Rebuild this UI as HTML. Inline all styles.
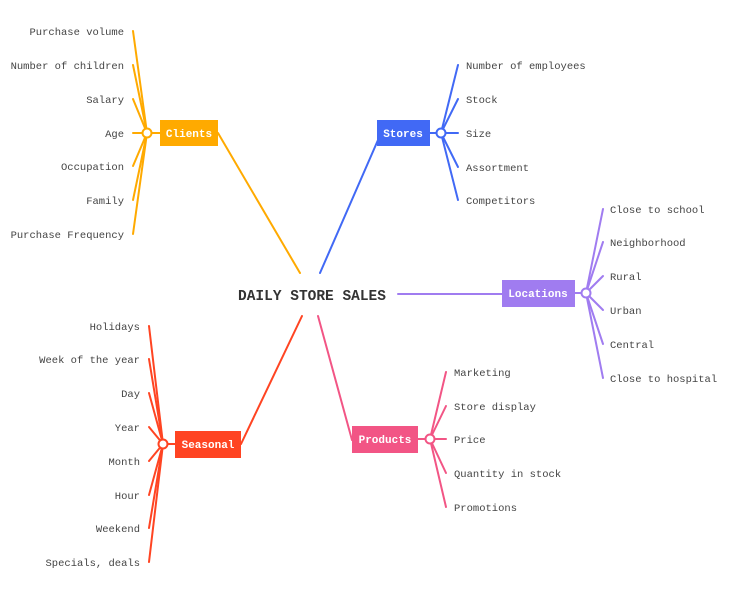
<!DOCTYPE html>
<html><head><meta charset="utf-8"><style>
html,body{margin:0;padding:0;background:#fff;}
svg{display:block;}
text{font-family:"Liberation Mono","DejaVu Sans Mono",monospace;font-size:10.5px;fill:#444;}
.b{fill:#fff;font-weight:bold;font-size:11px;}
</style></head><body>
<svg width="736" height="597" viewBox="0 0 736 597" xmlns="http://www.w3.org/2000/svg">
<g stroke-width="2" fill="none" stroke-linecap="round">
<!-- Clients -->
<g stroke="#ffaa00">
<line x1="218" y1="133" x2="300" y2="273"/>
<line x1="152" y1="133" x2="160" y2="133"/>
<line x1="147" y1="133" x2="133" y2="31"/><line x1="147" y1="133" x2="133" y2="65"/><line x1="147" y1="133" x2="133" y2="99"/><line x1="142" y1="133" x2="133" y2="133"/><line x1="147" y1="133" x2="133" y2="166"/><line x1="147" y1="133" x2="133" y2="200"/><line x1="147" y1="133" x2="133" y2="234"/>
</g>
<!-- Stores -->
<g stroke="#4169f5">
<line x1="378" y1="140" x2="320" y2="273"/>
<line x1="430" y1="133" x2="437" y2="133"/>
<line x1="441" y1="133" x2="458" y2="65"/><line x1="441" y1="133" x2="458" y2="99"/><line x1="446" y1="133" x2="458" y2="133"/><line x1="441" y1="133" x2="458" y2="167"/><line x1="441" y1="133" x2="458" y2="200"/>
</g>
<!-- Locations -->
<g stroke="#a07cf0">
<line x1="398" y1="294" x2="502" y2="294"/>
<line x1="575" y1="293" x2="582" y2="293"/>
<line x1="586" y1="293" x2="603" y2="209"/><line x1="586" y1="293" x2="603" y2="242"/><line x1="586" y1="293" x2="603" y2="276"/><line x1="586" y1="293" x2="603" y2="310"/><line x1="586" y1="293" x2="603" y2="344"/><line x1="586" y1="293" x2="603" y2="378"/>
</g>
<!-- Products -->
<g stroke="#f25585">
<line x1="318" y1="316" x2="352" y2="440"/>
<line x1="418" y1="439" x2="426" y2="439"/>
<line x1="430" y1="439" x2="446" y2="372"/><line x1="430" y1="439" x2="446" y2="406"/><line x1="435" y1="439" x2="446" y2="439"/><line x1="430" y1="439" x2="446" y2="473"/><line x1="430" y1="439" x2="446" y2="507"/>
</g>
<!-- Seasonal -->
<g stroke="#ff4422">
<line x1="302" y1="316" x2="241" y2="444"/>
<line x1="168" y1="444" x2="175" y2="444"/>
<line x1="163" y1="444" x2="149" y2="326"/><line x1="163" y1="444" x2="149" y2="359"/><line x1="163" y1="444" x2="149" y2="393"/><line x1="163" y1="444" x2="149" y2="427"/><line x1="163" y1="444" x2="149" y2="461"/><line x1="163" y1="444" x2="149" y2="495"/><line x1="163" y1="444" x2="149" y2="528"/><line x1="163" y1="444" x2="149" y2="562"/>
</g>
</g>
<!-- boxes -->
<rect x="160" y="120" width="58" height="26" fill="#ffaa00"/>
<rect x="377" y="120" width="53" height="26" fill="#4169f5"/>
<rect x="502" y="280" width="73" height="27" fill="#a07cf0"/>
<rect x="352" y="426" width="66" height="27" fill="#f25585"/>
<rect x="175" y="431" width="66" height="27" fill="#ff4422"/>
<g fill="#fff" stroke-width="2">
<circle cx="147" cy="133" r="4.5" stroke="#ffaa00"/>
<circle cx="441" cy="133" r="4.5" stroke="#4169f5"/>
<circle cx="586" cy="293" r="4.5" stroke="#a07cf0"/>
<circle cx="430" cy="439" r="4.5" stroke="#f25585"/>
<circle cx="163" cy="444" r="4.5" stroke="#ff4422"/>
</g>
<g text-anchor="middle">
<text class="b" x="189" y="137">Clients</text>
<text class="b" x="403" y="137">Stores</text>
<text class="b" x="538" y="297">Locations</text>
<text class="b" x="385" y="443">Products</text>
<text class="b" x="208" y="448">Seasonal</text>
<text x="312" y="300" style="font-size:14.5px;font-weight:bold;fill:#333">DAILY STORE SALES</text>
</g>
<g text-anchor="end">
<text x="124" y="35">Purchase volume</text>
<text x="124" y="69">Number of children</text>
<text x="124" y="103">Salary</text>
<text x="124" y="137">Age</text>
<text x="124" y="170">Occupation</text>
<text x="124" y="204">Family</text>
<text x="124" y="238">Purchase Frequency</text>
<text x="140" y="330">Holidays</text>
<text x="140" y="363">Week of the year</text>
<text x="140" y="397">Day</text>
<text x="140" y="431">Year</text>
<text x="140" y="465">Month</text>
<text x="140" y="499">Hour</text>
<text x="140" y="532">Weekend</text>
<text x="140" y="566">Specials, deals</text>
</g>
<g>
<text x="466" y="69">Number of employees</text>
<text x="466" y="103">Stock</text>
<text x="466" y="137">Size</text>
<text x="466" y="171">Assortment</text>
<text x="466" y="204">Competitors</text>
<text x="610" y="213">Close to school</text>
<text x="610" y="246">Neighborhood</text>
<text x="610" y="280">Rural</text>
<text x="610" y="314">Urban</text>
<text x="610" y="348">Central</text>
<text x="610" y="382">Close to hospital</text>
<text x="454" y="376">Marketing</text>
<text x="454" y="410">Store display</text>
<text x="454" y="443">Price</text>
<text x="454" y="477">Quantity in stock</text>
<text x="454" y="511">Promotions</text>
</g>
</svg>
</body></html>
